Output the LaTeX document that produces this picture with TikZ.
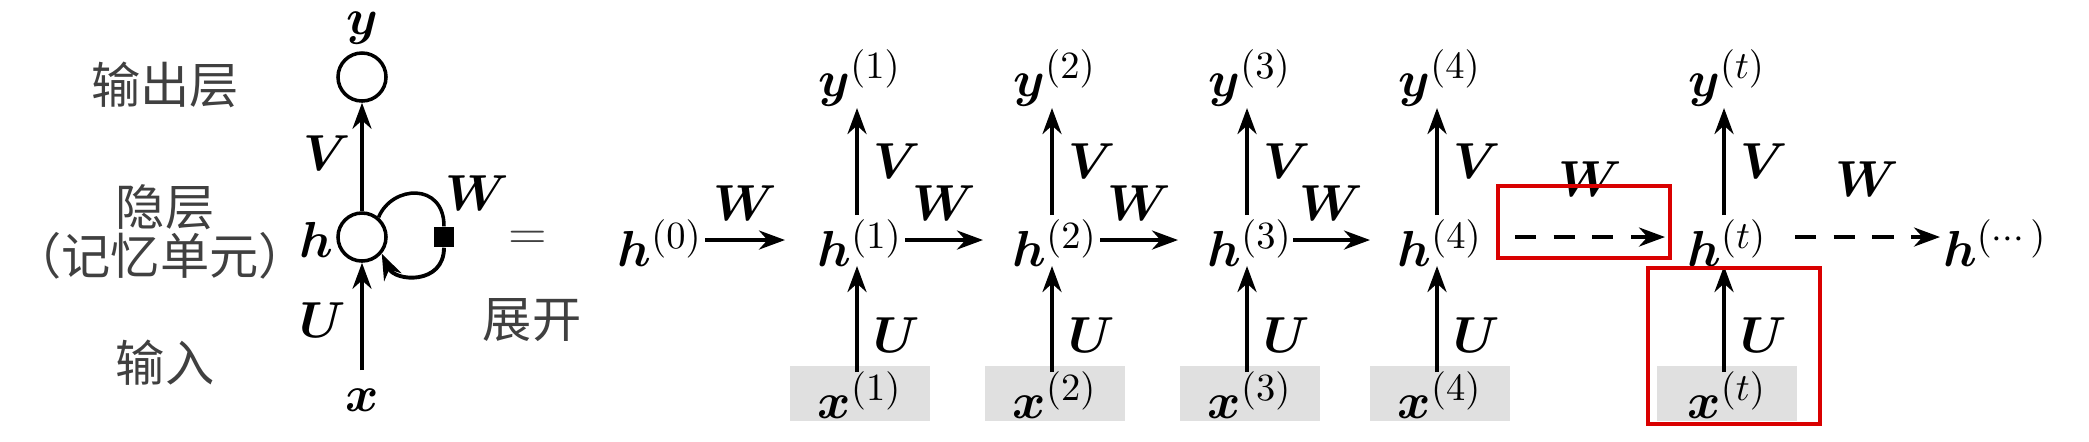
\documentclass[tikz,border=0pt]{standalone}
\usepackage{amsmath,bm}
\usepackage{fontspec}
\newfontfamily\cjk{Noto Sans CJK SC}
\usetikzlibrary{arrows.meta}
\begin{document}
\begin{tikzpicture}[x=0.01cm,y=-0.01cm,
  cn/.style={font=\cjk\fontsize{14}{16}\selectfont, text=black!75},
  mt/.style={font=\fontsize{15}{17}\selectfont, inner sep=1pt},
  ar/.style={line width=1.1pt, -{Stealth[length=2.6mm,width=1.9mm]}},
  unit/.style={circle, draw, line width=1pt, minimum size=0.48cm, inner sep=0pt},
  xbox/.style={fill=black!12, minimum width=1.4cm, minimum height=0.55cm, inner sep=0pt},
  redbox/.style={draw=red!85!black, line width=1.2pt}]
\useasboundingbox (0,0) rectangle (2089,441);
% left folded network
\node[cn] (l1) at (165,85) {输出层};
\node[cn] (l2) at (165,207) {隐层};
\node[cn] (l3) at (160,256) {（记忆单元）};
\node[cn] (l4) at (165,363) {输入};
\node[mt] (ly) at (362,28) {$\boldsymbol{y}$};
\node[unit] (cy) at (362,77) {};
\node[unit] (ch) at (362,237) {};
\node[mt] (lh) at (316,240) {$\boldsymbol{h}$};
\node[mt] (lx) at (362,400) {$\boldsymbol{x}$};
\coordinate (xs) at (362,370);
\node[mt] (lV) at (327,153) {$\boldsymbol{V}$};
\node[mt] (lU) at (323,320) {$\boldsymbol{U}$};
\draw[ar] (ch.north) -- (cy.south);
\draw[ar] (xs) -- (ch.south);
\node[fill=black, minimum size=0.2cm, inner sep=0pt] (sq) at (444,237) {};
\draw[line width=1pt] (ch.50) .. controls (392,185) and (444,182) .. (sq.north);
\draw[ar] (sq.south) .. controls (444,285) and (395,282) .. (ch.-40);
\node[mt] (lW) at (477,193) {$\boldsymbol{W}$};
\node[font=\fontsize{15}{17}\selectfont, text=black!75] (eq) at (528,240) {$=$};
\node[cn] (zk) at (532,320) {展开};
% unrolled network
\node[mt] (h0) at (660,243) {$\boldsymbol{h}^{(0)}$};
\foreach \i/\x in {1/860,2/1055,3/1250,4/1440,t/1727}{
  \node[mt] (h\i) at (\x,243) {$\boldsymbol{h}^{(\i)}$};
  \node[mt] (y\i) at (\x,78) {$\boldsymbol{y}^{(\i)}$};
  \node[xbox] (bx\i) at (\x,393) {};
  \node[mt] (x\i) at (\x,395) {$\boldsymbol{x}^{(\i)}$};
  \coordinate (ht\i) at (\x-3,215);
  \coordinate (yb\i) at (\x-3,108);
  \coordinate (hb\i) at (\x-3,266);
  \coordinate (xt\i) at (\x-3,372);
  \draw[ar] (ht\i) -- node[mt, right=3pt] {$\boldsymbol{V}$} (yb\i);
  \draw[ar] (xt\i) -- node[mt, right=3pt, pos=0.35] {$\boldsymbol{U}$} (hb\i);
}
\node[mt] (hd) at (1995,243) {$\boldsymbol{h}^{(\cdots)}$};
\foreach \a/\s/\e in {0/705/785,1/905/983,2/1100/1178,3/1293/1370}{
  \coordinate (s\a) at (\s,240);
  \coordinate (e\a) at (\e,240);
  \draw[ar] (s\a) -- node[mt, above=4pt] {$\boldsymbol{W}$} (e\a);
}
\coordinate (s4) at (1515,237);
\coordinate (e4) at (1665,237);
\draw[ar, dash pattern=on 6pt off 5pt] (s4) -- node[mt, above=10pt] {$\boldsymbol{W}$} (e4);
\coordinate (s5) at (1795,237);
\coordinate (e5) at (1940,237);
\draw[ar, dash pattern=on 6pt off 5pt] (s5) -- node[mt, above=10pt] {$\boldsymbol{W}$} (e5);
% red highlight boxes
\draw[redbox] (1498,186) rectangle (1670,258);
\draw[redbox] (1648,268) rectangle (1820,424);
\end{tikzpicture}
\end{document}
